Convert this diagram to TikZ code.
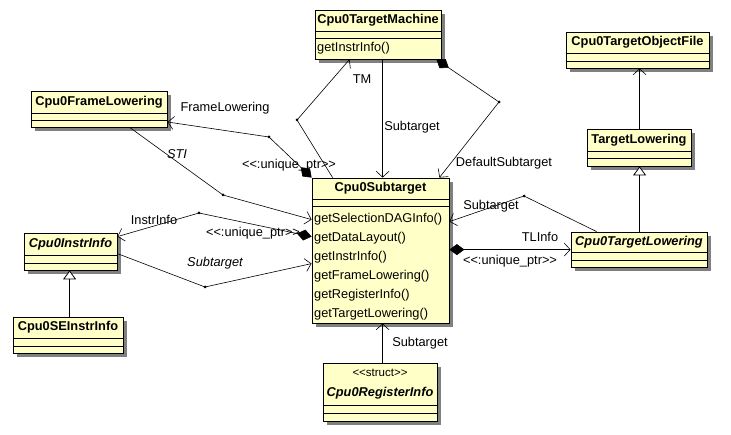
\documentclass[tikz,border=0pt]{standalone}
\usepackage{fontspec}
\setmainfont{Liberation Sans}
\usetikzlibrary{arrows.meta,fit}
\definecolor{Note}{HTML}{FFFFC8}
\definecolor{Shade}{HTML}{808080}
\newcommand{\umlfont}{\fontsize{12.8}{15}\selectfont}
\newcommand{\umlsmall}{\fontsize{11.5}{13}\selectfont}
\tikzset{
  cls/.style={draw,fill=Note,inner sep=0pt,line width=.8pt},
  clsshade/.style={fill=Shade},
  ttl/.style={font=\umlfont\bfseries,inner sep=0pt,align=center},
  meth/.style={font=\umlfont,anchor=west,inner sep=0pt},
  lab/.style={font=\umlfont,inner sep=0pt},
  assoc/.style={-{Straight Barb[length=6pt,width=13pt]},line width=.6pt},
  comp/.style={{Diamond[length=15pt,width=11pt]}-{Straight Barb[length=6pt,width=13pt]},line width=.6pt},
  gen/.style={-{Triangle[open,length=9pt,width=13pt,fill=white]},line width=.8pt}
}
\newcommand{\umlclass}[8]{%
  \fill[clsshade] (#2+4,#3+4) rectangle (#4+4,#5+4);
  \node[cls,fit={(#2,#3) (#4,#5)}] (#1) {};
  \draw[line width=.8pt] (#2,#6) -- (#4,#6) (#2,#7) -- (#4,#7);
  \node[ttl] (#1title) at ({(#2+#4)/2},{(#3+#6)/2}) {#8};
}

\begin{document}
\begin{tikzpicture}[x=1pt,y=-1pt]
  \useasboundingbox (0,0) rectangle (731,435);
  \umlclass{tm}{315}{10}{441}{59}{31}{38}{Cpu0TargetMachine}
  \node[meth] (tmm1) at (317,48) {getInstrInfo()};
  \umlclass{fl}{31}{91}{167}{127}{113}{120}{Cpu0FrameLowering}
  \umlclass{sub}{312}{178}{449}{323}{199}{206}{Cpu0Subtarget}
  \foreach \m [count=\i] in {getSelectionDAGInfo(),getDataLayout(),getInstrInfo(),getFrameLowering(),getRegisterInfo(),getTargetLowering()}
    \node[meth] (subm\i) at (314,200+19*\i) {\m};
  \umlclass{ii}{24}{233}{117}{270}{255}{263}{\itshape Cpu0InstrInfo}
  \umlclass{se}{13}{317}{123}{353}{338}{346}{Cpu0SEInstrInfo}
  \umlclass{ri}{323}{363}{437}{421}{405}{413}{{\mdseries\umlsmall <{}<struct>{}>}\\[5pt]\itshape Cpu0RegisterInfo}
  \umlclass{tl}{571}{232}{707}{267}{252}{260}{\itshape Cpu0TargetLowering}
  \umlclass{tgl}{587}{129}{691}{166}{151}{158}{TargetLowering}
  \umlclass{tof}{566}{32}{709}{68}{53}{61}{Cpu0TargetObjectFile}

  \coordinate (b1) at (297,120);
  \coordinate (b2) at (499,102);
  \coordinate (b3) at (269,137);
  \coordinate (b4) at (223,195);
  \coordinate (b5) at (199,213);
  \coordinate (b6) at (205,287);
  \coordinate (b7) at (524,196);
  \foreach \b in {b1,b2,b3,b4,b5,b6,b7}
    \fill (\b) circle (1.5pt);

  \draw[assoc] ([xshift=68pt]tm.south west) -- ([xshift=71pt]sub.north west);
  \draw[assoc] ([xshift=21pt]sub.north west) -- (b1) -- ([xshift=35pt]tm.south west);
  \draw[comp] ([xshift=-5pt]tm.south east) -- (b2) -- ([xshift=-10pt]sub.north east);
  \draw[comp] (sub.north west) -- (b3) -- ([yshift=-13pt]fl.east);
  \draw[assoc] ([xshift=99pt]fl.south west) -- (b4) -- ([yshift=-42pt]sub.north west);
  \draw[comp] ([yshift=-59pt]sub.north west) -- (b5) -- ([yshift=-4pt]ii.north east);
  \draw[assoc] ([yshift=-21pt]ii.north east) -- (b6) -- ([yshift=-86pt]sub.north west);
  \draw[gen] ([xshift=57pt]se.north west) -- ([xshift=46pt]ii.south west);
  \draw[assoc] ([xshift=60pt]ri.north west) -- ([xshift=71pt]sub.south west);
  \draw[comp] ([yshift=-72pt]sub.north east) -- ([yshift=-18pt]tl.north west);
  \draw[assoc] ([xshift=26pt]tl.north west) -- (b7) -- ([yshift=-44pt]sub.north east);
  \draw[gen] ([xshift=69pt]tl.north west) -- ([xshift=53pt]tgl.south west);
  \draw[assoc] ([xshift=53pt]tgl.north west) -- ([xshift=74pt]tof.south west);

  \node[lab] (ltm) at (362,79) {TM};
  \node[lab] (lsub1) at (412,127) {Subtarget};
  \node[lab] (ldef) at (504,163) {DefaultSubtarget};
  \node[lab] (lfl) at (225,108) {FrameLowering};
  \node[lab] (lup1) at (289,165) {<{}<:unique\_ptr>{}>};
  \node[lab,font=\umlfont\itshape] (lsti) at (177,154) {STI};
  \node[lab] (lii) at (154,220) {InstrInfo};
  \node[lab] (lup2) at (253,233) {<{}<:unique\_ptr>{}>};
  \node[lab,font=\umlfont\itshape] (lsub2) at (215,263) {Subtarget};
  \node[lab] (lsub3) at (491,206) {Subtarget};
  \node[lab] (ltli) at (540,237) {TLInfo};
  \node[lab] (lup3) at (510,261) {<{}<:unique\_ptr>{}>};
  \node[lab] (lsub4) at (420,343) {Subtarget};
\end{tikzpicture}
\end{document}
